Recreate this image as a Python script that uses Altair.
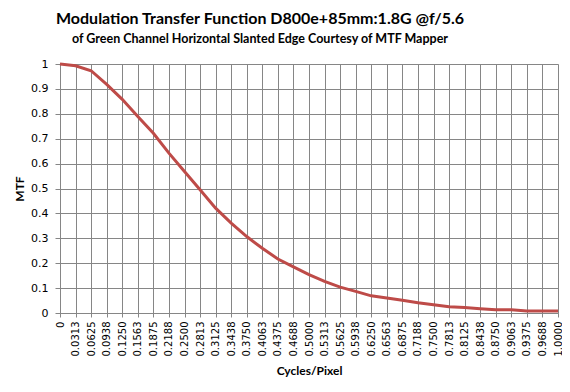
import altair as alt
import pandas as pd

x_labels = ["0", "0.0313", "0.0625", "0.0938", "0.1250", "0.1563", "0.1875", "0.2188",
            "0.2500", "0.2813", "0.3125", "0.3438", "0.3750", "0.4063", "0.4375", "0.4688",
            "0.5000", "0.5313", "0.5625", "0.5938", "0.6250", "0.6563", "0.6875", "0.7188",
            "0.7500", "0.7813", "0.8125", "0.8438", "0.8750", "0.9063", "0.9375", "0.9688",
            "1.0000"]
mtf = [1.0, 0.993, 0.973, 0.918, 0.858, 0.789, 0.722, 0.642,
       0.568, 0.495, 0.421, 0.361, 0.307, 0.260, 0.217, 0.185,
       0.154, 0.127, 0.104, 0.087, 0.069, 0.060, 0.051, 0.041,
       0.033, 0.025, 0.022, 0.017, 0.013, 0.013, 0.008, 0.008,
       0.008]

df = pd.DataFrame({"cycles": x_labels, "mtf": mtf})

grid = "#868686"
line = (
    alt.Chart(df)
    .mark_line(color="#BE4B48", strokeWidth=3)
    .encode(
        x=alt.X(
            "cycles:O",
            sort=x_labels,
            scale=alt.Scale(type="point", padding=0),
            axis=alt.Axis(
                title="Cycles/Pixel",
                labelAngle=270,
                labelAlign="right",
                labelBaseline="middle",
                labelFont="DejaVu Sans",
                labelFontSize=10,
                labelColor="#000000",
                labelPadding=4,
                tickSize=4,
                tickColor=grid,
                domainColor=grid,
                gridColor=grid,
                grid=True,
                titleFont="Lato",
                titleFontSize=12,
                titleFontWeight="bold",
                titleColor="#000000",
                titlePadding=10,
            ),
        ),
        y=alt.Y(
            "mtf:Q",
            scale=alt.Scale(domain=[0, 1], nice=False),
            axis=alt.Axis(
                title="MTF",
                values=[i / 10 for i in range(11)],
                format=".1~f",
                labelFont="DejaVu Sans",
                labelFontSize=11,
                labelColor="#000000",
                labelPadding=7,
                tickSize=5,
                tickColor=grid,
                domainColor=grid,
                gridColor=grid,
                grid=True,
                titleFont="Lato",
                titleFontSize=12,
                titleFontWeight="bold",
                titleColor="#000000",
                titlePadding=4,
            ),
        ),
    )
)

chart = (
    line.properties(
        width=498,
        height=249,
        autosize=alt.AutoSizeParams(type="none"),
        padding={"left": 52, "top": 56, "right": 4, "bottom": 71},
        title=alt.TitleParams(
            text="Modulation Transfer Function D800e+85mm:1.8G @f/5.6",
            subtitle="of Green Channel Horizontal Slanted Edge Courtesy of MTF Mapper",
            anchor="middle",
            dx=-49,
            font="Lato",
            fontSize=16,
            fontWeight="bold",
            color="#000000",
            subtitleFont="Lato",
            subtitleFontSize=12.5,
            subtitleFontWeight="bold",
            subtitleColor="#000000",
            subtitlePadding=6,
            offset=13,
        ),
    )
    .configure_view(stroke=grid, strokeWidth=1)
    .configure(background="white")
)

chart.save("out.html", embed_options={"renderer": "svg", "actions": False})
